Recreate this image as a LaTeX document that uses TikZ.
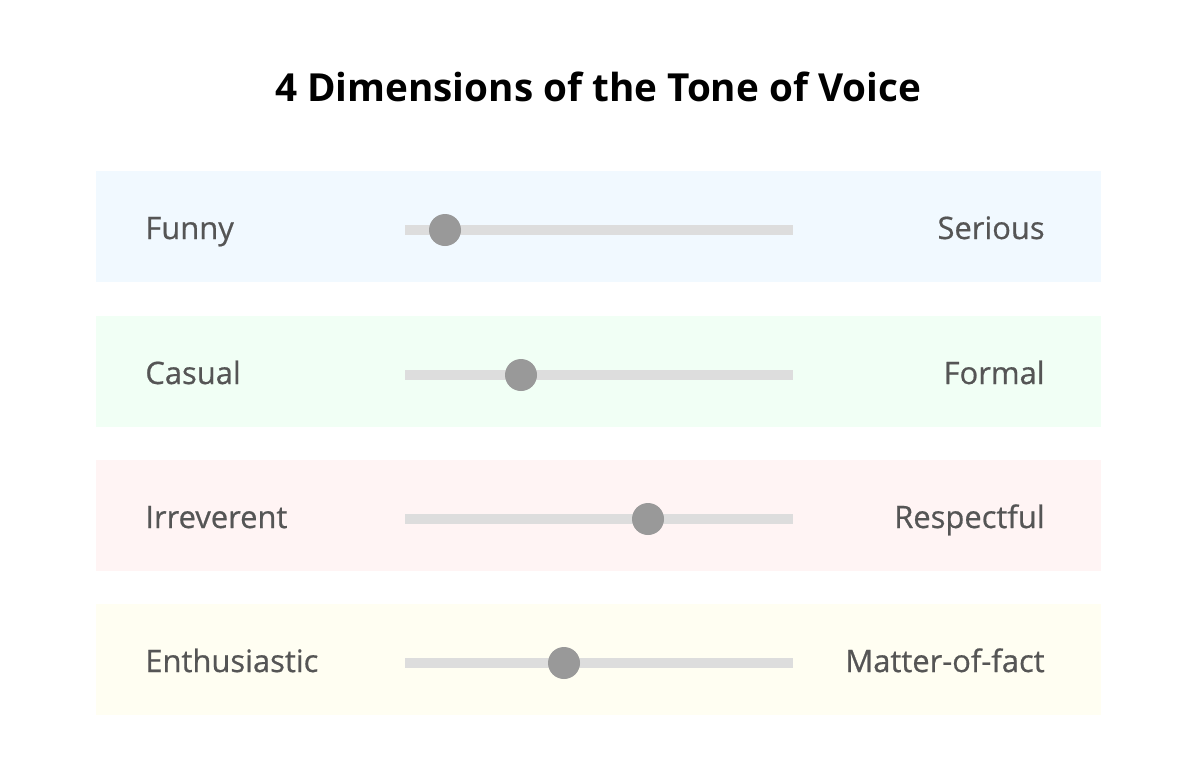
\documentclass[tikz,border=0pt]{standalone}
\usepackage{fontspec}
\setmainfont{Open Sans}
\newfontfamily\medfont{Open Sans}[FakeBold=0.6]
\definecolor{bblue}{RGB}{241,249,255}
\definecolor{bgreen}{RGB}{241,255,245}
\definecolor{bred}{RGB}{255,244,244}
\definecolor{byellow}{RGB}{255,254,242}
\definecolor{txt}{RGB}{85,85,85}
\definecolor{track}{RGB}{221,221,221}
\definecolor{knobc}{RGB}{153,153,153}
\begin{document}
\begin{tikzpicture}[x=0.02cm,y=-0.02cm,
  lbl/.style={font=\medfont\fontsize{17.6}{20}\selectfont, text=txt, inner sep=0pt},
  knob/.style={circle, fill=knobc, minimum size=0.64cm, inner sep=0pt},
  tracksty/.style={line width=5.6pt, draw=track}]
\useasboundingbox (0,0) rectangle (1200,772);
\node[font=\fontsize{22}{26}\selectfont\bfseries, inner sep=0pt, anchor=base] (title) at (598,101) {4 Dimensions of the Tone of Voice};
\foreach \i/\t/\c/\l/\r/\k in {1/171/bblue/Funny/Serious/445, 2/316/bgreen/Casual/Formal/521, 3/460/bred/Irreverent/Respectful/648, 4/604/byellow/Enthusiastic/Matter-of-fact/564}{
  \fill[\c] (96,\t) rectangle (1101,\t+111);
  \node[lbl, anchor=base west] (L\i) at (145,\t+68) {\l};
  \node[lbl, anchor=base east] (R\i) at (1045,\t+68) {\r};
  \coordinate (a\i) at (405,\t+59);
  \coordinate (b\i) at (793,\t+59);
  \draw[tracksty] (a\i) -- (b\i);
  \node[knob] (k\i) at (\k,\t+59) {};
}
\end{tikzpicture}
\end{document}
